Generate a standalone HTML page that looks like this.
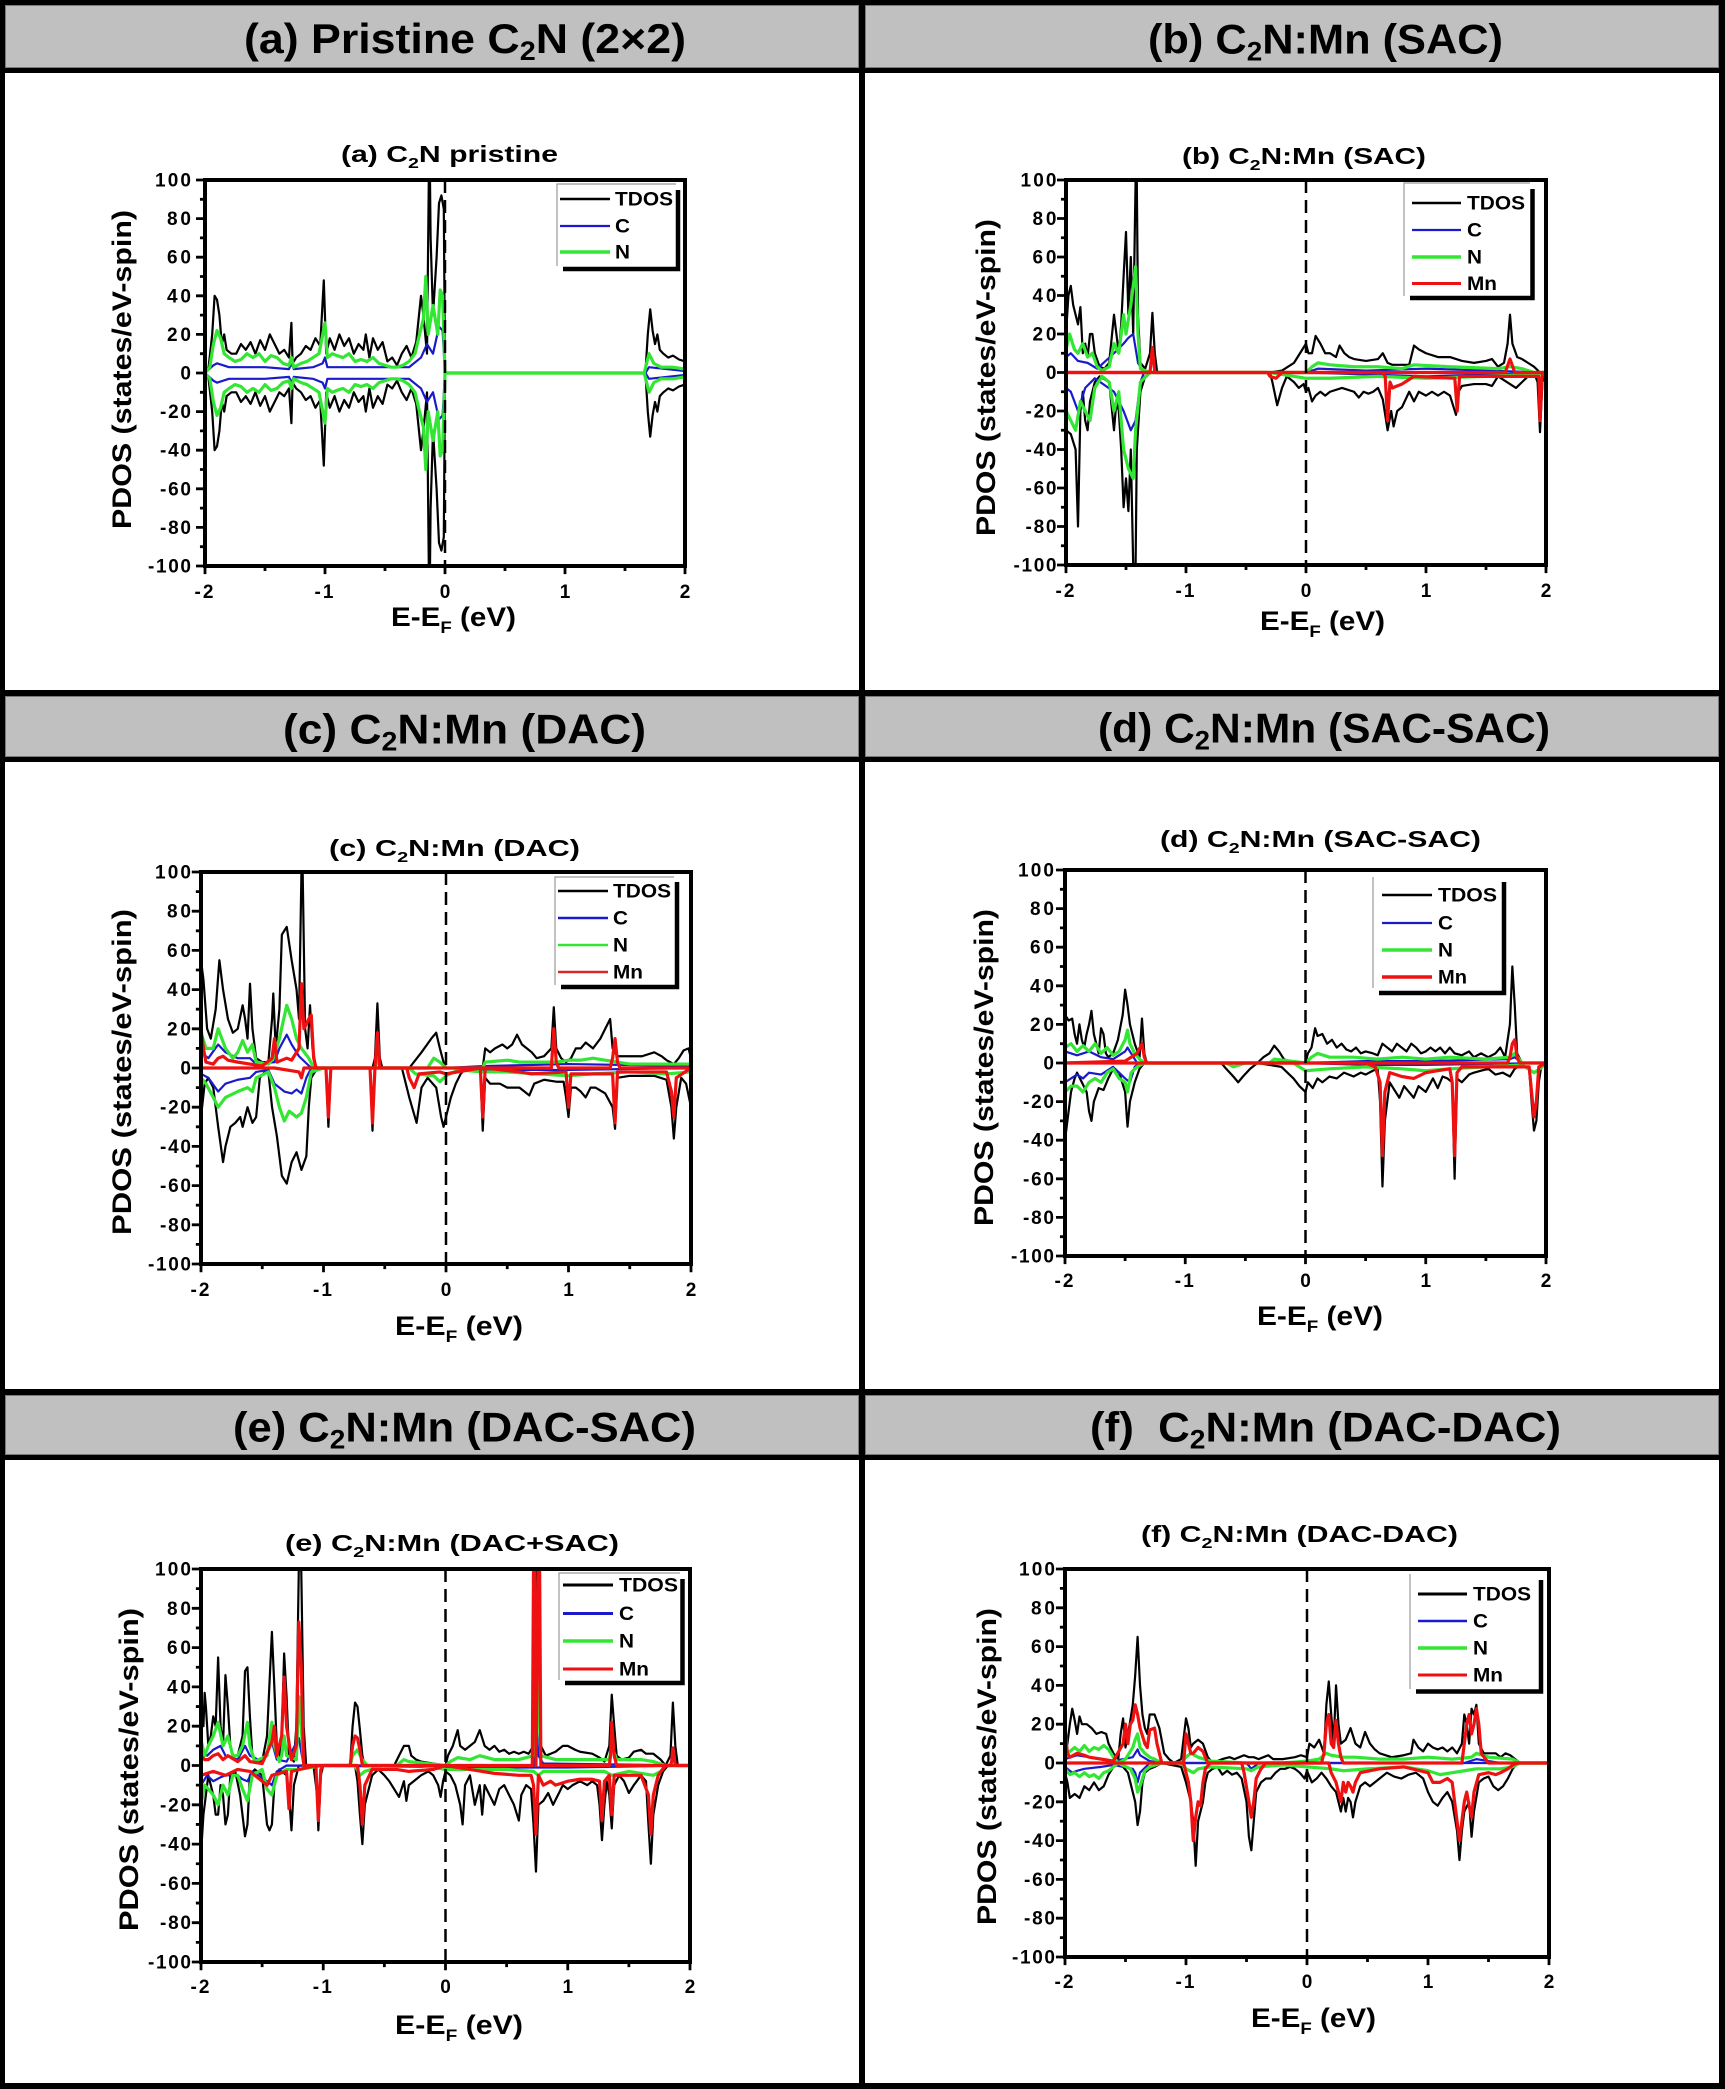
<!DOCTYPE html>
<html><head><meta charset="utf-8"><style>
html,body{margin:0;padding:0;background:#fff}
svg{display:block}
.ln{fill:none;stroke-linejoin:round;stroke-linecap:round}
.t{stroke:#000;stroke-width:2.2}
.c{stroke:#1a1acc;stroke-width:2.2}
.n{stroke:#33e633;stroke-width:3.2}
.m{stroke:#ee1111;stroke-width:3.2}
text{font-family:"Liberation Sans",Arial,sans-serif;font-weight:bold;fill:#000}
.hd{font-size:42px}
.ti{font-size:23px}
.ax{font-size:27px}
.yl{font-size:19px;text-anchor:end}
.xl{font-size:19px;text-anchor:middle}
.lg{font-size:19px}
</style></head><body>
<svg width="1725" height="2089" viewBox="0 0 1725 2089" xmlns="http://www.w3.org/2000/svg">
<defs>
<path id="tk" fill="none" stroke="#000" stroke-width="2.8" vector-effect="non-scaling-stroke" d="M-2.075,100H-2M-2.075,80H-2M-2.075,60H-2M-2.075,40H-2M-2.075,20H-2M-2.075,0H-2M-2.075,-20H-2M-2.075,-40H-2M-2.075,-60H-2M-2.075,-80H-2M-2.075,-100H-2M-2.042,90H-2M-2.042,70H-2M-2.042,50H-2M-2.042,30H-2M-2.042,10H-2M-2.042,-10H-2M-2.042,-30H-2M-2.042,-50H-2M-2.042,-70H-2M-2.042,-90H-2M-2,-100V-104.2M-1,-100V-104.2M0,-100V-104.2M1,-100V-104.2M2,-100V-104.2M-1.5,-100V-102.6M-0.5,-100V-102.6M0.5,-100V-102.6M1.5,-100V-102.6"/>
<clipPath id="ca"><rect x="205" y="180" width="480" height="386"/></clipPath>
<clipPath id="cb"><rect x="1066" y="180" width="480" height="385"/></clipPath>
<clipPath id="cc"><rect x="201" y="872" width="490" height="392"/></clipPath>
<clipPath id="cd"><rect x="1065" y="870" width="481" height="386"/></clipPath>
<clipPath id="ce"><rect x="201" y="1569" width="489" height="393"/></clipPath>
<clipPath id="cf"><rect x="1065" y="1569" width="484" height="388"/></clipPath>
</defs>

<!-- grid -->
<rect x="0" y="0" width="1725" height="2089" fill="#000"/>
<g fill="#c0c0c0" stroke="#7a7a7a" stroke-width="1">
<rect x="5.5" y="5.5" width="853" height="62"/>
<rect x="865.5" y="5.5" width="853" height="62"/>
<rect x="5.5" y="696.5" width="853" height="60"/>
<rect x="865.5" y="696.5" width="853" height="60"/>
<rect x="5.5" y="1395.5" width="853" height="59"/>
<rect x="865.5" y="1395.5" width="853" height="59"/>
</g>
<g fill="#fff">
<rect x="5" y="73" width="854" height="617"/>
<rect x="865" y="73" width="854" height="617"/>
<rect x="5" y="762" width="854" height="627"/>
<rect x="865" y="762" width="854" height="627"/>
<rect x="5" y="1460" width="854" height="623"/>
<rect x="865" y="1460" width="854" height="623"/>
</g>

<!-- headers -->
<text class="hd" x="244" y="53" textLength="442" lengthAdjust="spacingAndGlyphs">(a) Pristine C<tspan font-size="27" dy="7">2</tspan><tspan dy="-7">N (2×2)</tspan></text>
<text class="hd" x="1148" y="53.5" textLength="355" lengthAdjust="spacingAndGlyphs">(b) C<tspan font-size="27" dy="7">2</tspan><tspan dy="-7">N:Mn (SAC)</tspan></text>
<text class="hd" x="283" y="743.5" textLength="363" lengthAdjust="spacingAndGlyphs">(c) C<tspan font-size="27" dy="7">2</tspan><tspan dy="-7">N:Mn (DAC)</tspan></text>
<text class="hd" x="1098" y="742.5" textLength="452" lengthAdjust="spacingAndGlyphs">(d) C<tspan font-size="27" dy="7">2</tspan><tspan dy="-7">N:Mn (SAC-SAC)</tspan></text>
<text class="hd" x="233" y="1441.5" textLength="463" lengthAdjust="spacingAndGlyphs">(e) C<tspan font-size="27" dy="7">2</tspan><tspan dy="-7">N:Mn (DAC-SAC)</tspan></text>
<text class="hd" x="1090" y="1441.5" textLength="471" lengthAdjust="spacingAndGlyphs">(f)&#160; C<tspan font-size="27" dy="7">2</tspan><tspan dy="-7">N:Mn (DAC-DAC)</tspan></text>

<!-- ================= PANEL A ================= -->
<g clip-path="url(#ca)">
<g transform="translate(445,373) scale(120,-1.93)">
<polyline id="at" class="ln t" vector-effect="non-scaling-stroke" points="-2,0 -1.97,3 -1.94,20 -1.92,40 -1.9,38 -1.88,30 -1.86,15 -1.84,20 -1.82,12 -1.78,10 -1.74,10 -1.7,15 -1.66,12 -1.62,16 -1.58,10 -1.54,17 -1.5,12 -1.46,20 -1.42,15 -1.38,10 -1.34,12 -1.3,8 -1.28,26 -1.27,5 -1.24,8 -1.2,10 -1.16,14 -1.12,12 -1.08,18 -1.04,14 -1.01,48 -0.99,10 -0.96,18 -0.92,12 -0.88,20 -0.84,14 -0.8,18 -0.76,10 -0.72,15 -0.68,12 -0.66,20 -0.63,8 -0.6,18 -0.56,12 -0.52,16 -0.48,6 -0.44,8 -0.4,4 -0.36,10 -0.32,14 -0.28,8 -0.24,16 -0.2,40 -0.18,30 -0.15,10 -0.135,100 -0.125,100 -0.12,70 -0.1,30 -0.07,60 -0.05,88 -0.03,92 -0.01,85 0,0 1.67,0 1.69,20 1.71,33 1.73,22 1.75,15 1.77,20 1.79,12 1.82,10 1.86,8 1.9,9 1.95,7 2,6"/>
<use href="#at" transform="scale(1,-1)"/>
<polyline id="ac" class="ln c" vector-effect="non-scaling-stroke" points="-2,0 -1.93,4 -1.9,5 -1.8,3 -1.7,3 -1.5,3 -1.3,2 -1.28,5 -1.26,2 -1.1,3 -1.02,5 -1,8 -0.98,3 -0.9,3 -0.6,3 -0.3,3 -0.2,8 -0.15,15 -0.1,10 -0.05,24 -0.02,22 0,0 1.67,0 1.7,3 2,1"/>
<use href="#ac" transform="scale(1,-1)"/>
<polyline id="an" class="ln n" vector-effect="non-scaling-stroke" points="-2,0 -1.96,3 -1.93,15 -1.9,22 -1.87,18 -1.84,10 -1.8,8 -1.75,6 -1.7,7 -1.65,10 -1.6,8 -1.55,10 -1.5,6 -1.45,9 -1.4,8 -1.35,5 -1.3,4 -1.28,8 -1.26,3 -1.2,5 -1.15,6 -1.1,8 -1.05,10 -1,26 -0.98,8 -0.94,10 -0.9,9 -0.85,8 -0.8,10 -0.75,6 -0.7,7 -0.65,6 -0.6,8 -0.55,5 -0.5,4 -0.45,3 -0.4,3 -0.35,4 -0.3,6 -0.25,10 -0.22,18 -0.18,28 -0.16,50 -0.14,20 -0.1,35 -0.06,20 -0.04,43 -0.02,40 0,0 1.66,0 1.7,10 1.74,5 1.8,3 1.9,3 2,2"/>
<use href="#an" transform="scale(1,-1)"/>
</g></g>
<g transform="translate(445,373) scale(120,-1.93)"><use href="#tk"/></g>
<line x1="445" y1="180" x2="445" y2="566" stroke="#000" stroke-width="2.5" stroke-dasharray="13 7"/>
<rect x="205" y="180" width="480" height="386" fill="none" stroke="#000" stroke-width="4"/>
<text class="yl" x="191" y="186.5" textLength="36">100</text><text class="yl" x="191" y="225.1" textLength="24">80</text><text class="yl" x="191" y="263.7" textLength="24">60</text><text class="yl" x="191" y="302.3" textLength="24">40</text><text class="yl" x="191" y="340.9" textLength="24">20</text><text class="yl" x="191" y="379.5" textLength="12">0</text><text class="yl" x="191" y="418.1" textLength="31">-20</text><text class="yl" x="191" y="456.7" textLength="31">-40</text><text class="yl" x="191" y="495.3" textLength="31">-60</text><text class="yl" x="191" y="533.9" textLength="31">-80</text><text class="yl" x="191" y="572.5" textLength="43">-100</text>
<text class="xl" x="204" y="598" textLength="19">-2</text><text class="xl" x="324" y="598" textLength="19">-1</text><text class="xl" x="445" y="598" textLength="12">0</text><text class="xl" x="565" y="598" textLength="12">1</text><text class="xl" x="685" y="598" textLength="12">2</text>
<text class="ti" x="341" y="162" textLength="217" lengthAdjust="spacingAndGlyphs">(a) C<tspan font-size="15" dy="6">2</tspan><tspan dy="-6">N pristine</tspan></text>
<text class="ax" x="391" y="626" textLength="125" lengthAdjust="spacingAndGlyphs">E-E<tspan font-size="17" dy="7">F</tspan><tspan dy="-7"> (eV)</tspan></text>
<text class="ax" transform="translate(131,369.5) rotate(-90)" x="0" y="0" text-anchor="middle" textLength="319" lengthAdjust="spacingAndGlyphs">PDOS (states/eV-spin)</text>
<path d="M557,266V184H676" fill="none" stroke="#999" stroke-width="1.2"/>
<path d="M678,190V269H563" fill="none" stroke="#000" stroke-width="4.5"/>
<line x1="560" y1="199" x2="610" y2="199" stroke="#000" stroke-width="2.5"/>
<line x1="560" y1="226" x2="610" y2="226" stroke="#1a1acc" stroke-width="2.2"/>
<line x1="560" y1="252" x2="610" y2="252" stroke="#33e633" stroke-width="3.5"/>
<text class="lg" x="615" y="205.5" textLength="58" lengthAdjust="spacingAndGlyphs">TDOS</text>
<text class="lg" x="615" y="232.5" textLength="15" lengthAdjust="spacingAndGlyphs">C</text>
<text class="lg" x="615" y="258.5" textLength="15" lengthAdjust="spacingAndGlyphs">N</text>

<!-- ================= PANEL B ================= -->
<g clip-path="url(#cb)">
<g transform="translate(1306,372.5) scale(120,-1.925)">
<polyline class="ln t" vector-effect="non-scaling-stroke" points="-2,20 -1.98,40 -1.96,45 -1.94,35 -1.92,30 -1.9,25 -1.88,34 -1.86,10 -1.84,15 -1.82,8 -1.8,20 -1.78,20 -1.76,10 -1.72,3 -1.68,2 -1.64,5 -1.6,30 -1.58,20 -1.56,10 -1.54,25 -1.52,50 -1.5,73 -1.48,30 -1.46,60 -1.44,20 -1.42,100 -1.41,100 -1.4,30 -1.38,5 -1.34,2 -1.3,10 -1.28,31 -1.26,10 -1.24,0 -0.3,0 -0.2,1 -0.1,5 -0.05,10 0,15 0.02,10 0.05,10 0.08,19 0.12,15 0.16,10 0.2,10 0.25,8 0.28,14 0.32,10 0.36,8 0.4,7 0.5,6 0.6,7 0.64,10 0.68,5 0.72,4 0.8,4 0.86,4 0.9,14 0.94,12 1,10 1.1,8 1.2,8 1.3,6 1.4,5 1.5,6 1.55,7 1.6,3 1.65,5 1.68,15 1.7,30 1.72,15 1.76,8 1.8,7 1.85,5 1.9,3 1.95,0 2,0"/>
<polyline class="ln t" vector-effect="non-scaling-stroke" points="-2,-30 -1.96,-32 -1.92,-40 -1.9,-80 -1.88,-20 -1.86,-10 -1.84,-25 -1.82,-30 -1.8,-15 -1.76,-5 -1.72,-2 -1.64,-5 -1.6,-30 -1.58,-15 -1.56,-20 -1.54,-40 -1.52,-70 -1.5,-55 -1.48,-72 -1.46,-40 -1.44,-100 -1.42,-100 -1.41,-40 -1.38,-10 -1.34,-2 -1.3,0 -0.3,0 -0.28,-5 -0.24,-17 -0.2,-8 -0.16,-2 -0.1,-5 -0.06,-8 -0.02,-6 0,-10 0.02,-8 0.05,-15 0.08,-12 0.12,-10 0.16,-12 0.2,-10 0.3,-8 0.4,-10 0.44,-13 0.48,-10 0.52,-11 0.56,-10 0.6,-8 0.64,-14 0.68,-30 0.71,-20 0.73,-28 0.76,-20 0.8,-18 0.86,-10 0.9,-15 0.94,-10 1,-12 1.05,-10 1.1,-12 1.15,-10 1.2,-12 1.25,-22 1.27,-10 1.3,-7 1.4,-6 1.5,-6 1.55,-7 1.6,-2 1.65,-4 1.7,-6 1.75,-8 1.8,-5 1.85,-2 1.9,0 1.93,-5 1.95,-31 1.97,-5 2,0"/>
<polyline class="ln c" vector-effect="non-scaling-stroke" points="-2,8 -1.96,10 -1.9,6 -1.82,5 -1.74,2 -1.6,10 -1.52,15 -1.48,18 -1.44,20 -1.4,5 -1.35,0 0,0 0.1,2 0.5,1 1,2 1.5,1 2,0"/>
<polyline class="ln c" vector-effect="non-scaling-stroke" points="-2,-8 -1.96,-10 -1.9,-20 -1.84,-8 -1.76,-3 -1.6,-10 -1.52,-20 -1.46,-30 -1.42,-25 -1.38,-5 -1.35,0 0,0 0.5,-1 1,-2 2,0"/>
<polyline class="ln n" vector-effect="non-scaling-stroke" points="-2,12 -1.97,20 -1.93,12 -1.9,10 -1.86,15 -1.82,8 -1.78,10 -1.74,3 -1.7,1 -1.64,3 -1.6,15 -1.56,10 -1.52,30 -1.5,20 -1.46,35 -1.42,55 -1.4,20 -1.38,2 -1.3,0 0,0 0.05,3 0.1,5 0.2,4 0.4,3 0.6,3 0.8,2 0.9,4 1.2,3 1.6,2 1.7,3 1.8,2 1.9,0 2,0"/>
<polyline class="ln n" vector-effect="non-scaling-stroke" points="-2,-20 -1.96,-25 -1.92,-30 -1.88,-15 -1.84,-20 -1.8,-25 -1.76,-8 -1.7,-2 -1.64,-5 -1.6,-20 -1.56,-10 -1.52,-40 -1.48,-50 -1.44,-55 -1.42,-30 -1.38,-5 -1.3,0 -0.3,0 0,-3 0.2,-3 0.6,-2 1,-3 1.5,-2 1.9,-1 2,0"/>
<polyline class="ln m" vector-effect="non-scaling-stroke" points="-2,0 -1.3,0 -1.28,13 -1.26,0 1.66,0 1.7,7 1.74,0 2,0"/>
<polyline class="ln m" vector-effect="non-scaling-stroke" points="-2,0 -0.32,0 -0.3,-2 -0.25,-3 -0.2,0 0.64,0 0.66,-2 0.68,-25 0.7,-5 0.72,-8 0.8,-6 0.9,-2 1.24,-3 1.26,-20 1.28,-2 1.94,-2 1.95,-25 1.97,0 2,0"/>
</g></g>
<g transform="translate(1306,372.5) scale(120,-1.925)"><use href="#tk"/></g>
<line x1="1306" y1="180" x2="1306" y2="565" stroke="#000" stroke-width="2.5" stroke-dasharray="13 7"/>
<rect x="1066" y="180" width="480" height="385" fill="none" stroke="#000" stroke-width="4"/>
<text class="yl" x="1056.5" y="186.5" textLength="36">100</text><text class="yl" x="1056.5" y="225" textLength="24">80</text><text class="yl" x="1056.5" y="263.5" textLength="24">60</text><text class="yl" x="1056.5" y="302" textLength="24">40</text><text class="yl" x="1056.5" y="340.5" textLength="24">20</text><text class="yl" x="1056.5" y="379" textLength="12">0</text><text class="yl" x="1056.5" y="417.5" textLength="31">-20</text><text class="yl" x="1056.5" y="456" textLength="31">-40</text><text class="yl" x="1056.5" y="494.5" textLength="31">-60</text><text class="yl" x="1056.5" y="533" textLength="31">-80</text><text class="yl" x="1056.5" y="571.5" textLength="43">-100</text>
<text class="xl" x="1065" y="597" textLength="19">-2</text><text class="xl" x="1185" y="597" textLength="19">-1</text><text class="xl" x="1306" y="597" textLength="12">0</text><text class="xl" x="1426" y="597" textLength="12">1</text><text class="xl" x="1546" y="597" textLength="12">2</text>
<text class="ti" x="1182" y="164" textLength="244" lengthAdjust="spacingAndGlyphs">(b) C<tspan font-size="15" dy="6">2</tspan><tspan dy="-6">N:Mn (SAC)</tspan></text>
<text class="ax" x="1260" y="630" textLength="125" lengthAdjust="spacingAndGlyphs">E-E<tspan font-size="17" dy="7">F</tspan><tspan dy="-7"> (eV)</tspan></text>
<text class="ax" transform="translate(995,377.5) rotate(-90)" x="0" y="0" text-anchor="middle" textLength="317" lengthAdjust="spacingAndGlyphs">PDOS (states/eV-spin)</text>
<path d="M1404,296V183H1530" fill="none" stroke="#999" stroke-width="1.2"/>
<path d="M1532.5,189V298H1410" fill="none" stroke="#000" stroke-width="4.5"/>
<line x1="1412" y1="203" x2="1461" y2="203" stroke="#000" stroke-width="2.5"/>
<line x1="1412" y1="230" x2="1461" y2="230" stroke="#1a1acc" stroke-width="2.2"/>
<line x1="1412" y1="257" x2="1461" y2="257" stroke="#33e633" stroke-width="3.5"/>
<line x1="1412" y1="283.5" x2="1461" y2="283.5" stroke="#ee1111" stroke-width="3"/>
<text class="lg" x="1467" y="209.5" textLength="58" lengthAdjust="spacingAndGlyphs">TDOS</text>
<text class="lg" x="1467" y="236.5" textLength="15" lengthAdjust="spacingAndGlyphs">C</text>
<text class="lg" x="1467" y="263.5" textLength="15" lengthAdjust="spacingAndGlyphs">N</text>
<text class="lg" x="1467" y="290" textLength="30" lengthAdjust="spacingAndGlyphs">Mn</text>

<!-- ================= PANEL C ================= -->
<g clip-path="url(#cc)">
<g transform="translate(446,1068) scale(122.5,-1.96)">
<polyline class="ln t" vector-effect="non-scaling-stroke" points="-2,55 -1.98,45 -1.95,20 -1.92,15 -1.88,30 -1.85,55 -1.82,40 -1.78,25 -1.74,18 -1.7,20 -1.66,32 -1.64,25 -1.62,15 -1.6,43 -1.58,20 -1.55,5 -1.5,3 -1.45,3 -1.42,25 -1.41,38 -1.39,10 -1.36,30 -1.34,68 -1.3,72 -1.26,55 -1.22,40 -1.2,25 -1.18,100 -1.17,100 -1.15,20 -1.13,10 -1.11,32 -1.09,10 -1.06,0 -0.6,0 -0.58,5 -0.56,33 -0.54,5 -0.52,0 -0.3,0 -0.2,8 -0.12,15 -0.08,18 -0.05,10 -0.02,3 0,0 0.3,0 0.32,10 0.36,8 0.4,10 0.46,12 0.5,10 0.54,12 0.58,17 0.62,12 0.66,10 0.7,8 0.74,5 0.8,6 0.86,10 0.88,31 0.9,10 0.94,5 0.98,3 1.02,5 1.06,10 1.1,10 1.14,13 1.2,10 1.26,15 1.3,20 1.34,25 1.36,10 1.4,6 1.5,6 1.6,6 1.7,8 1.76,6 1.8,4 1.86,2 1.9,5 1.94,9 1.98,10 2,5"/>
<polyline class="ln t" vector-effect="non-scaling-stroke" points="-2,-25 -1.97,-8 -1.94,-5 -1.9,-10 -1.86,-30 -1.82,-48 -1.8,-40 -1.76,-30 -1.72,-28 -1.68,-25 -1.66,-30 -1.62,-20 -1.58,-28 -1.55,-25 -1.52,-5 -1.48,-2 -1.45,-2 -1.42,-20 -1.38,-35 -1.34,-55 -1.3,-59 -1.26,-48 -1.22,-43 -1.18,-52 -1.14,-45 -1.12,-20 -1.1,-5 -1.05,0 -0.98,0 -0.96,-30 -0.94,0 -0.62,0 -0.6,-32 -0.58,0 -0.36,0 -0.3,-15 -0.24,-28 -0.2,-10 -0.15,-5 -0.08,-10 -0.04,-25 -0.02,-30 0,-25 0.04,-15 0.08,-8 0.12,-3 0.16,0 0.28,0 0.3,-32 0.32,-5 0.36,-8 0.44,-8 0.5,-10 0.56,-10 0.6,-10 0.64,-12 0.68,-14 0.72,-8 0.8,-6 0.9,-7 0.96,-7 0.98,-15 1,-25 1.02,-10 1.06,-10 1.1,-12 1.14,-15 1.18,-10 1.22,-10 1.3,-13 1.36,-20 1.38,-31 1.4,-5 1.5,-4 1.6,-4 1.7,-4 1.8,-6 1.84,-20 1.86,-36 1.88,-20 1.92,-5 1.96,-8 2,-20"/>
<polyline class="ln c" vector-effect="non-scaling-stroke" points="-2,8 -1.94,5 -1.86,12 -1.8,8 -1.7,5 -1.6,5 -1.55,2 -1.4,3 -1.36,10 -1.3,17 -1.26,12 -1.2,6 -1.15,3 -1.1,0 0,0 0.3,1 1,2 2,1"/>
<polyline class="ln c" vector-effect="non-scaling-stroke" points="-2,-3 -1.94,-5 -1.86,-12 -1.8,-8 -1.7,-6 -1.6,-5 -1.55,-2 -1.45,-1 -1.4,-8 -1.32,-12 -1.26,-13 -1.22,-11 -1.18,-13 -1.14,-5 -1.1,0 0,0 0.3,-1 1,-1 2,0"/>
<polyline class="ln n" vector-effect="non-scaling-stroke" points="-2,18 -1.96,10 -1.9,10 -1.86,20 -1.8,10 -1.74,5 -1.7,8 -1.66,14 -1.62,8 -1.58,12 -1.55,3 -1.45,2 -1.41,5 -1.36,15 -1.3,32 -1.26,25 -1.22,15 -1.18,10 -1.12,5 -1.08,0 -0.58,0 -0.56,5 -0.54,0 -0.15,0 -0.1,5 -0.05,3 0,0 0.3,0 0.32,3 0.5,4 0.6,3 0.9,3 1,4 1.1,4 1.2,5 1.3,4 1.4,3 1.5,2 2,2"/>
<polyline class="ln n" vector-effect="non-scaling-stroke" points="-2,-5 -1.96,-8 -1.9,-15 -1.86,-20 -1.8,-15 -1.7,-12 -1.62,-10 -1.58,-12 -1.55,-5 -1.45,-2 -1.4,-10 -1.36,-20 -1.32,-27 -1.28,-22 -1.22,-25 -1.18,-23 -1.14,-15 -1.1,-2 -1,0 -0.3,0 -0.25,-3 -0.1,-4 -0.05,-7 0,-4 0.1,-1 0.3,-2 0.5,-2 1,-4 1.2,-3 1.5,-2 1.8,-3 2,-2"/>
<polyline class="ln m" vector-effect="non-scaling-stroke" points="-2,20 -1.98,10 -1.96,3 -1.9,2 -1.86,5 -1.82,6 -1.78,4 -1.7,3 -1.6,2 -1.5,1 -1.42,5 -1.4,15 -1.38,3 -1.3,5 -1.26,4 -1.2,10 -1.18,43 -1.16,20 -1.12,25 -1.1,27 -1.08,5 -1.06,0 -0.58,0 -0.56,18 -0.54,0 0.86,0 0.88,20 0.9,3 0.92,0 1.34,0 1.36,5 1.38,15 1.4,3 1.42,0 2,0"/>
<polyline class="ln m" vector-effect="non-scaling-stroke" points="-2,0 -1.4,0 -1.2,-2 -1.18,-5 -1.16,0 -0.98,0 -0.96,-25 -0.94,0 -0.62,0 -0.6,-28 -0.58,0 -0.32,0 -0.3,-5 -0.26,-10 -0.22,-3 -0.05,-2 0,-3 0.28,0 0.3,-25 0.32,0 0.6,-2 0.7,-3 0.98,-2 1,-20 1.02,-3 1.36,-3 1.38,-28 1.4,-2 1.8,-2 1.84,-12 1.86,-25 1.88,-5 2,0"/>
</g></g>
<g transform="translate(446,1068) scale(122.5,-1.96)"><use href="#tk"/></g>
<line x1="446" y1="872" x2="446" y2="1264" stroke="#000" stroke-width="2.5" stroke-dasharray="13 7"/>
<rect x="201" y="872" width="490" height="392" fill="none" stroke="#000" stroke-width="4"/>
<text class="yl" x="191" y="878.5" textLength="36">100</text><text class="yl" x="191" y="917.7" textLength="24">80</text><text class="yl" x="191" y="956.9" textLength="24">60</text><text class="yl" x="191" y="996.1" textLength="24">40</text><text class="yl" x="191" y="1035.3" textLength="24">20</text><text class="yl" x="191" y="1074.5" textLength="12">0</text><text class="yl" x="191" y="1113.7" textLength="31">-20</text><text class="yl" x="191" y="1152.9" textLength="31">-40</text><text class="yl" x="191" y="1192.1" textLength="31">-60</text><text class="yl" x="191" y="1231.3" textLength="31">-80</text><text class="yl" x="191" y="1270.5" textLength="43">-100</text>
<text class="xl" x="200" y="1296" textLength="19">-2</text><text class="xl" x="322.5" y="1296" textLength="19">-1</text><text class="xl" x="446" y="1296" textLength="12">0</text><text class="xl" x="568.5" y="1296" textLength="12">1</text><text class="xl" x="691" y="1296" textLength="12">2</text>
<text class="ti" x="329" y="856" textLength="251" lengthAdjust="spacingAndGlyphs">(c) C<tspan font-size="15" dy="6">2</tspan><tspan dy="-6">N:Mn (DAC)</tspan></text>
<text class="ax" x="395" y="1335" textLength="128" lengthAdjust="spacingAndGlyphs">E-E<tspan font-size="17" dy="7">F</tspan><tspan dy="-7"> (eV)</tspan></text>
<text class="ax" transform="translate(131,1072) rotate(-90)" x="0" y="0" text-anchor="middle" textLength="326" lengthAdjust="spacingAndGlyphs">PDOS (states/eV-spin)</text>
<path d="M555,985V877H674" fill="none" stroke="#999" stroke-width="1.2"/>
<path d="M677,882V987H561" fill="none" stroke="#000" stroke-width="4.5"/>
<line x1="558" y1="891" x2="608" y2="891" stroke="#000" stroke-width="2.5"/>
<line x1="558" y1="918" x2="608" y2="918" stroke="#1a1acc" stroke-width="2.5"/>
<line x1="558" y1="945" x2="608" y2="945" stroke="#33e633" stroke-width="2.5"/>
<line x1="558" y1="972" x2="608" y2="972" stroke="#d42a2a" stroke-width="2.5"/>
<text class="lg" x="613" y="897.5" textLength="58" lengthAdjust="spacingAndGlyphs">TDOS</text>
<text class="lg" x="613" y="924.5" textLength="15" lengthAdjust="spacingAndGlyphs">C</text>
<text class="lg" x="613" y="951.5" textLength="15" lengthAdjust="spacingAndGlyphs">N</text>
<text class="lg" x="613" y="978.5" textLength="30" lengthAdjust="spacingAndGlyphs">Mn</text>

<!-- ================= PANEL D ================= -->
<g clip-path="url(#cd)">
<g transform="translate(1305.5,1063) scale(120.25,-1.93)">
<polyline class="ln t" vector-effect="non-scaling-stroke" points="-2,25 -1.97,22 -1.94,23 -1.92,15 -1.9,10 -1.88,20 -1.86,12 -1.84,8 -1.82,15 -1.8,20 -1.78,27 -1.76,15 -1.74,10 -1.72,5 -1.7,18 -1.68,15 -1.66,5 -1.64,3 -1.6,5 -1.56,12 -1.52,25 -1.5,38 -1.48,30 -1.46,20 -1.42,10 -1.38,3 -1.36,23 -1.34,5 -1.32,0 -0.4,0 -0.35,3 -0.3,5 -0.26,9 -0.22,6 -0.18,2 -0.1,0 0,0 0.02,5 0.05,8 0.08,18 0.1,14 0.14,15 0.18,10 0.22,12 0.26,8 0.3,10 0.34,7 0.38,6 0.42,8 0.46,5 0.5,6 0.56,5 0.6,4 0.64,10 0.68,8 0.72,6 0.76,10 0.8,8 0.84,6 0.88,10 0.92,8 0.96,5 1,6 1.04,8 1.08,6 1.12,8 1.16,5 1.2,8 1.24,5 1.3,4 1.36,6 1.4,3 1.46,5 1.52,3 1.58,5 1.62,8 1.66,3 1.7,20 1.72,50 1.74,30 1.76,5 1.8,0 2,0"/>
<polyline class="ln t" vector-effect="non-scaling-stroke" points="-2,-40 -1.98,-30 -1.95,-15 -1.92,-8 -1.9,-5 -1.86,-10 -1.82,-15 -1.8,-25 -1.78,-30 -1.76,-20 -1.72,-13 -1.68,-14 -1.64,-8 -1.6,-3 -1.55,-5 -1.5,-15 -1.48,-33 -1.46,-20 -1.42,-10 -1.38,-3 -1.34,0 -0.7,0 -0.66,-3 -0.6,-7 -0.56,-10 -0.52,-7 -0.46,-3 -0.4,0 -0.2,-2 -0.15,-5 -0.1,-8 -0.05,-12 0,-15 0.02,-10 0.06,-13 0.1,-8 0.14,-10 0.2,-7 0.26,-8 0.32,-5 0.4,-7 0.46,-5 0.5,-6 0.56,-4 0.6,-3 0.62,-20 0.64,-64 0.66,-30 0.7,-10 0.74,-14 0.78,-18 0.82,-12 0.86,-15 0.9,-18 0.94,-12 1,-15 1.06,-8 1.1,-13 1.14,-7 1.18,-8 1.22,-10 1.24,-60 1.26,-8 1.3,-10 1.36,-6 1.4,-5 1.46,-4 1.52,-3 1.58,-6 1.64,-5 1.7,-7 1.74,-3 1.8,-1 1.86,-3 1.88,-20 1.9,-35 1.92,-30 1.94,-10 1.96,-2 2,0"/>
<polyline class="ln c" vector-effect="non-scaling-stroke" points="-2,6 -1.9,4 -1.8,6 -1.7,3 -1.6,2 -1.5,6 -1.48,8 -1.44,4 -1.4,0 0,0 0.5,1 1,1 1.7,2 1.74,3 1.8,0 2,0"/>
<polyline class="ln c" vector-effect="non-scaling-stroke" points="-2,-10 -1.9,-6 -1.85,-8 -1.8,-5 -1.7,-6 -1.6,-2 -1.5,-8 -1.46,-10 -1.42,-2 -1.38,0 0,0 0.5,-1 1,-1 2,0"/>
<polyline class="ln n" vector-effect="non-scaling-stroke" points="-2,8 -1.95,10 -1.9,6 -1.85,9 -1.8,6 -1.75,10 -1.7,5 -1.65,8 -1.6,4 -1.55,6 -1.5,12 -1.48,17 -1.46,10 -1.42,5 -1.38,2 -1.34,0 -0.3,0 -0.26,2 0,0 0.05,3 0.1,5 0.2,3 0.4,3 0.6,2 0.8,3 1,2 1.2,3 1.5,2 1.7,3 1.74,5 1.8,0 2,0"/>
<polyline class="ln n" vector-effect="non-scaling-stroke" points="-2,-15 -1.95,-12 -1.9,-12 -1.85,-15 -1.8,-10 -1.75,-8 -1.7,-10 -1.65,-5 -1.6,-3 -1.55,-8 -1.5,-10 -1.48,-15 -1.45,-5 -1.4,-2 -1.34,0 -0.66,0 -0.6,-2 -0.5,0 -0.1,0 0,-4 0.2,-3 0.5,-2 0.8,-3 1,-4 1.2,-3 1.5,-2 1.8,-1 1.9,-5 1.95,-3 2,0"/>
<polyline class="ln m" vector-effect="non-scaling-stroke" points="-2,0 -1.5,1 -1.4,5 -1.36,10 -1.34,3 -1.32,0 1.68,0 1.7,3 1.72,10 1.74,12 1.76,3 1.78,0 2,0"/>
<polyline class="ln m" vector-effect="non-scaling-stroke" points="-2,0 0.5,0 0.58,-2 0.62,-10 0.64,-48 0.66,-15 0.7,-5 0.8,-7 0.9,-8 1,-5 1.1,-4 1.2,-3 1.22,-10 1.24,-48 1.26,-5 1.3,-2 1.86,-2 1.88,-15 1.9,-28 1.92,-20 1.94,-2 2,0"/>
</g></g>
<g transform="translate(1305.5,1063) scale(120.25,-1.93)"><use href="#tk"/></g>
<line x1="1305.5" y1="870" x2="1305.5" y2="1256" stroke="#000" stroke-width="2.5" stroke-dasharray="13 7"/>
<rect x="1065" y="870" width="481" height="386" fill="none" stroke="#000" stroke-width="4"/>
<text class="yl" x="1054" y="876.5" textLength="36">100</text><text class="yl" x="1054" y="915.1" textLength="24">80</text><text class="yl" x="1054" y="953.7" textLength="24">60</text><text class="yl" x="1054" y="992.3" textLength="24">40</text><text class="yl" x="1054" y="1030.9" textLength="24">20</text><text class="yl" x="1054" y="1069.5" textLength="12">0</text><text class="yl" x="1054" y="1108.1" textLength="31">-20</text><text class="yl" x="1054" y="1146.7" textLength="31">-40</text><text class="yl" x="1054" y="1185.3" textLength="31">-60</text><text class="yl" x="1054" y="1223.9" textLength="31">-80</text><text class="yl" x="1054" y="1262.5" textLength="43">-100</text>
<text class="xl" x="1064" y="1287" textLength="19">-2</text><text class="xl" x="1184.3" y="1287" textLength="19">-1</text><text class="xl" x="1305.5" y="1287" textLength="12">0</text><text class="xl" x="1425.8" y="1287" textLength="12">1</text><text class="xl" x="1546" y="1287" textLength="12">2</text>
<text class="ti" x="1160" y="847" textLength="321" lengthAdjust="spacingAndGlyphs">(d) C<tspan font-size="15" dy="6">2</tspan><tspan dy="-6">N:Mn (SAC-SAC)</tspan></text>
<text class="ax" x="1257" y="1325" textLength="126" lengthAdjust="spacingAndGlyphs">E-E<tspan font-size="17" dy="7">F</tspan><tspan dy="-7"> (eV)</tspan></text>
<text class="ax" transform="translate(993,1067.5) rotate(-90)" x="0" y="0" text-anchor="middle" textLength="317" lengthAdjust="spacingAndGlyphs">PDOS (states/eV-spin)</text>
<path d="M1373,988V877" fill="none" stroke="#999" stroke-width="1.2"/>
<path d="M1504,882V993H1379" fill="none" stroke="#000" stroke-width="4.5"/>
<line x1="1382" y1="895" x2="1432" y2="895" stroke="#000" stroke-width="2.5"/>
<line x1="1382" y1="923" x2="1432" y2="923" stroke="#1a1acc" stroke-width="2.2"/>
<line x1="1382" y1="950" x2="1432" y2="950" stroke="#33e633" stroke-width="3.5"/>
<line x1="1382" y1="977" x2="1432" y2="977" stroke="#ee1111" stroke-width="3.5"/>
<text class="lg" x="1438" y="901.5" textLength="59" lengthAdjust="spacingAndGlyphs">TDOS</text>
<text class="lg" x="1438" y="929.5" textLength="15" lengthAdjust="spacingAndGlyphs">C</text>
<text class="lg" x="1438" y="956.5" textLength="15" lengthAdjust="spacingAndGlyphs">N</text>
<text class="lg" x="1438" y="983.5" textLength="29" lengthAdjust="spacingAndGlyphs">Mn</text>

<!-- ================= PANEL E ================= -->
<g clip-path="url(#ce)">
<g transform="translate(445.5,1765.5) scale(122.25,-1.965)">
<polyline class="ln t" vector-effect="non-scaling-stroke" points="-2,20 -1.99,30 -1.98,20 -1.97,37 -1.96,30 -1.94,10 -1.92,15 -1.9,25 -1.88,20 -1.86,55 -1.84,20 -1.82,10 -1.8,46 -1.78,30 -1.76,10 -1.74,5 -1.7,5 -1.66,15 -1.64,48 -1.62,50 -1.6,25 -1.58,5 -1.54,2 -1.5,2 -1.46,15 -1.42,68 -1.4,40 -1.38,10 -1.36,5 -1.34,15 -1.32,57 -1.3,35 -1.28,5 -1.24,2 -1.22,20 -1.2,100 -1.18,100 -1.16,20 -1.14,0 -0.78,0 -0.76,20 -0.74,32 -0.72,30 -0.7,18 -0.68,5 -0.66,0 -0.42,0 -0.38,5 -0.34,10 -0.3,10 -0.28,5 -0.24,3 -0.2,2 0,0 0.02,5 0.06,10 0.1,18 0.12,10 0.16,8 0.2,10 0.24,12 0.28,18 0.32,10 0.36,8 0.4,10 0.44,7 0.48,8 0.52,6 0.56,7 0.6,6 0.64,7 0.68,6 0.72,10 0.74,100 0.76,100 0.78,10 0.82,5 0.86,6 0.9,7 0.96,10 1,10 1.06,8 1.1,7 1.2,6 1.26,4 1.3,2 1.34,10 1.36,36 1.38,20 1.4,5 1.44,3 1.5,4 1.54,7 1.6,8 1.64,6 1.7,6 1.76,3 1.8,0 1.84,5 1.86,32 1.88,10 1.9,0 2,0"/>
<polyline class="ln t" vector-effect="non-scaling-stroke" points="-2,-45 -1.98,-25 -1.96,-15 -1.94,-5 -1.9,-15 -1.88,-25 -1.86,-25 -1.84,-10 -1.82,-15 -1.8,-30 -1.78,-25 -1.76,-5 -1.72,-3 -1.68,-15 -1.64,-36 -1.62,-30 -1.6,-5 -1.56,-2 -1.5,-5 -1.46,-30 -1.44,-33 -1.42,-30 -1.4,-10 -1.36,-2 -1.3,-5 -1.28,-15 -1.26,-33 -1.24,-10 -1.2,0 -1.08,0 -1.05,-15 -1.04,-33 -1.02,-5 -1,0 -0.74,0 -0.72,-8 -0.7,-25 -0.68,-40 -0.66,-20 -0.62,-10 -0.6,-5 -0.55,-2 -0.5,-5 -0.46,-8 -0.42,-12 -0.38,-16 -0.34,-8 -0.32,-18 -0.3,-10 -0.26,-8 -0.2,-5 -0.14,-3 -0.1,-5 -0.06,-10 -0.04,-16 -0.02,-8 0,-3 0.04,-5 0.08,-10 0.12,-20 0.14,-30 0.16,-10 0.2,-5 0.24,-20 0.28,-10 0.3,-25 0.32,-10 0.36,-15 0.4,-20 0.44,-12 0.48,-10 0.52,-15 0.56,-20 0.6,-28 0.62,-15 0.66,-10 0.7,-12 0.72,-30 0.74,-54 0.76,-20 0.8,-18 0.84,-14 0.88,-20 0.92,-15 0.96,-10 1,-12 1.04,-10 1.1,-8 1.16,-10 1.2,-8 1.24,-10 1.26,-20 1.28,-38 1.3,-20 1.32,-8 1.34,-15 1.36,-32 1.38,-10 1.42,-5 1.46,-8 1.5,-14 1.54,-10 1.6,-5 1.64,-8 1.66,-30 1.68,-50 1.7,-25 1.74,-10 1.78,-3 1.82,0 2,0"/>
<polyline class="ln c" vector-effect="non-scaling-stroke" points="-2,8 -1.95,5 -1.9,8 -1.84,10 -1.8,5 -1.7,3 -1.64,10 -1.6,5 -1.5,2 -1.42,12 -1.38,3 -1.3,2 -1.2,14 -1.16,0 0.72,0 0.74,25 0.76,5 0.8,1 2,0"/>
<polyline class="ln c" vector-effect="non-scaling-stroke" points="-2,-10 -1.95,-5 -1.9,-8 -1.84,-6 -1.8,-5 -1.7,-5 -1.66,-7 -1.62,-8 -1.58,-3 -1.46,-8 -1.42,-10 -1.38,-3 -1.3,0 0.5,-1 1,-1 2,0"/>
<polyline class="ln n" vector-effect="non-scaling-stroke" points="-2,13 -1.97,5 -1.94,10 -1.9,15 -1.86,22 -1.82,10 -1.78,15 -1.74,5 -1.7,5 -1.66,10 -1.62,22 -1.6,10 -1.56,2 -1.46,5 -1.42,22 -1.4,10 -1.36,2 -1.34,5 -1.32,15 -1.3,5 -1.22,3 -1.2,35 -1.18,20 -1.16,0 -0.78,0 -0.76,5 -0.72,8 -0.68,3 -0.64,0 -0.4,0 -0.34,3 -0.3,2 0,0 0.04,2 0.1,4 0.2,3 0.28,5 0.4,3 0.6,3 0.72,5 0.74,48 0.76,35 0.78,5 0.9,3 1.2,3 1.34,3 1.36,10 1.4,3 1.6,3 1.7,2 1.8,0 2,0"/>
<polyline class="ln n" vector-effect="non-scaling-stroke" points="-2,-20 -1.97,-10 -1.94,-12 -1.9,-15 -1.86,-20 -1.82,-10 -1.78,-15 -1.74,-5 -1.7,-5 -1.66,-12 -1.62,-18 -1.58,-5 -1.5,-2 -1.46,-12 -1.42,-15 -1.38,-5 -1.3,-2 -1.2,-2 -1,0 -0.74,0 -0.7,-5 -0.66,-3 -0.5,0 -0.2,0 0,-2 0.2,-2 0.5,-2 0.72,-3 0.76,-5 0.8,-3 1,-3 1.3,-3 1.36,-5 1.5,-3 1.7,-5 1.76,-3 1.8,0 2,0"/>
<polyline class="ln m" vector-effect="non-scaling-stroke" points="-2,5 -1.97,3 -1.94,3 -1.9,5 -1.86,6 -1.82,3 -1.78,5 -1.7,2 -1.64,5 -1.6,2 -1.5,1 -1.42,12 -1.4,20 -1.38,5 -1.34,15 -1.32,45 -1.3,20 -1.26,3 -1.22,10 -1.2,73 -1.18,50 -1.16,0 -0.78,0 -0.76,10 -0.74,15 -0.72,14 -0.7,8 -0.68,0 0.71,0 0.72,100 0.73,100 0.74,0 0.76,100 0.77,100 0.78,0 1.34,0 1.35,5 1.36,22 1.38,5 1.4,0 1.84,0 1.85,2 1.86,9 1.88,0 2,0"/>
<polyline class="ln m" vector-effect="non-scaling-stroke" points="-2,-5 -1.9,-3 -1.8,-5 -1.7,-2 -1.6,-3 -1.46,-10 -1.42,-5 -1.3,-3 -1.28,-22 -1.26,-3 -1.06,0 -1.05,-15 -1.04,-28 -1.02,-2 -1,0 -0.72,0 -0.7,-10 -0.68,-30 -0.66,-10 -0.6,-2 -0.4,-2 -0.3,-3 -0.1,-2 0,0 0.2,-2 0.4,-4 0.6,-5 0.7,-5 0.72,-10 0.74,-35 0.76,-5 0.8,-10 0.86,-8 0.9,-10 1,-8 1.1,-7 1.2,-7 1.26,-8 1.28,-28 1.3,-8 1.34,-5 1.36,-25 1.38,-5 1.5,-5 1.6,-5 1.66,-15 1.68,-35 1.7,-15 1.74,-5 1.8,0 2,0"/>
</g></g>
<g transform="translate(445.5,1765.5) scale(122.25,-1.965)"><use href="#tk"/></g>
<line x1="445.5" y1="1569" x2="445.5" y2="1962" stroke="#000" stroke-width="2.5" stroke-dasharray="13 7"/>
<rect x="201" y="1569" width="489" height="393" fill="none" stroke="#000" stroke-width="4"/>
<text class="yl" x="191" y="1575.5" textLength="36">100</text><text class="yl" x="191" y="1614.8" textLength="24">80</text><text class="yl" x="191" y="1654.1" textLength="24">60</text><text class="yl" x="191" y="1693.4" textLength="24">40</text><text class="yl" x="191" y="1732.7" textLength="24">20</text><text class="yl" x="191" y="1772" textLength="12">0</text><text class="yl" x="191" y="1811.3" textLength="31">-20</text><text class="yl" x="191" y="1850.6" textLength="31">-40</text><text class="yl" x="191" y="1889.9" textLength="31">-60</text><text class="yl" x="191" y="1929.2" textLength="31">-80</text><text class="yl" x="191" y="1968.5" textLength="43">-100</text>
<text class="xl" x="200" y="1993" textLength="19">-2</text><text class="xl" x="322.3" y="1993" textLength="19">-1</text><text class="xl" x="445.5" y="1993" textLength="12">0</text><text class="xl" x="567.8" y="1993" textLength="12">1</text><text class="xl" x="690" y="1993" textLength="12">2</text>
<text class="ti" x="285" y="1551" textLength="334" lengthAdjust="spacingAndGlyphs">(e) C<tspan font-size="15" dy="6">2</tspan><tspan dy="-6">N:Mn (DAC+SAC)</tspan></text>
<text class="ax" x="395" y="2034" textLength="128" lengthAdjust="spacingAndGlyphs">E-E<tspan font-size="17" dy="7">F</tspan><tspan dy="-7"> (eV)</tspan></text>
<text class="ax" transform="translate(138,1769.5) rotate(-90)" x="0" y="0" text-anchor="middle" textLength="323" lengthAdjust="spacingAndGlyphs">PDOS (states/eV-spin)</text>
<path d="M559,1680V1573H680" fill="none" stroke="#999" stroke-width="1.2"/>
<path d="M682.5,1579V1683H565" fill="none" stroke="#000" stroke-width="4.5"/>
<line x1="563" y1="1585" x2="613" y2="1585" stroke="#000" stroke-width="3"/>
<line x1="563" y1="1613.5" x2="613" y2="1613.5" stroke="#1a1acc" stroke-width="3"/>
<line x1="563" y1="1641" x2="613" y2="1641" stroke="#33e633" stroke-width="3.5"/>
<line x1="563" y1="1669" x2="613" y2="1669" stroke="#ee1111" stroke-width="3"/>
<text class="lg" x="619" y="1591.5" textLength="59" lengthAdjust="spacingAndGlyphs">TDOS</text>
<text class="lg" x="619" y="1620" textLength="15" lengthAdjust="spacingAndGlyphs">C</text>
<text class="lg" x="619" y="1647.5" textLength="15" lengthAdjust="spacingAndGlyphs">N</text>
<text class="lg" x="619" y="1675.5" textLength="30" lengthAdjust="spacingAndGlyphs">Mn</text>

<!-- ================= PANEL F ================= -->
<g clip-path="url(#cf)">
<g transform="translate(1307,1763) scale(121,-1.94)">
<polyline class="ln t" vector-effect="non-scaling-stroke" points="-2,5 -1.98,10 -1.96,20 -1.94,28 -1.92,22 -1.9,15 -1.88,24 -1.86,20 -1.82,20 -1.78,18 -1.74,15 -1.7,16 -1.66,15 -1.64,10 -1.6,5 -1.56,2 -1.54,15 -1.52,23 -1.5,8 -1.48,15 -1.46,22 -1.44,30 -1.42,45 -1.4,65 -1.38,40 -1.36,25 -1.34,18 -1.32,15 -1.3,25 -1.26,25 -1.22,18 -1.18,5 -1.14,2 -1.1,0 -1.04,2 -1,23 -0.98,18 -0.96,8 -0.94,10 -0.9,12 -0.86,10 -0.82,3 -0.78,0 -0.74,1 -0.7,2 -0.64,3 -0.6,2 -0.56,3 -0.52,4 -0.48,3 -0.44,3 -0.4,2 -0.36,3 -0.32,4 -0.28,2 -0.2,2 -0.1,3 -0.05,4 0,3 0.02,10 0.06,8 0.1,12 0.14,5 0.16,30 0.18,42 0.2,25 0.22,10 0.24,40 0.26,20 0.28,10 0.32,12 0.36,18 0.4,10 0.44,8 0.48,16 0.52,10 0.56,7 0.6,5 0.7,3 0.8,4 0.86,5 0.88,12 0.92,8 0.96,6 1,10 1.04,8 1.08,7 1.12,8 1.16,6 1.2,8 1.24,5 1.28,10 1.3,25 1.32,20 1.34,10 1.36,28 1.38,25 1.4,30 1.42,10 1.46,5 1.5,5 1.56,5 1.6,3 1.64,5 1.68,4 1.72,2 1.76,0 2,0"/>
<polyline class="ln t" vector-effect="non-scaling-stroke" points="-2,-5 -1.98,-10 -1.96,-18 -1.92,-16 -1.88,-18 -1.84,-12 -1.8,-14 -1.76,-10 -1.72,-14 -1.68,-12 -1.64,-6 -1.6,-2 -1.56,0 -1.52,-2 -1.48,-5 -1.44,-15 -1.42,-20 -1.4,-32 -1.38,-25 -1.36,-10 -1.34,-5 -1.3,-3 -1.26,-2 -1.2,0 -1.04,-2 -1,-10 -0.98,-15 -0.96,-20 -0.94,-30 -0.92,-53 -0.9,-30 -0.88,-25 -0.86,-20 -0.84,-10 -0.82,-5 -0.78,-3 -0.74,-2 -0.7,-6 -0.66,-4 -0.62,-6 -0.58,-5 -0.54,-8 -0.5,-20 -0.48,-38 -0.46,-45 -0.44,-30 -0.42,-15 -0.38,-10 -0.34,-8 -0.3,-8 -0.26,-5 -0.22,-3 -0.18,-3 -0.14,-2 -0.1,-3 -0.06,-5 -0.02,-8 0,-4 0.04,-10 0.08,-8 0.12,-5 0.16,-8 0.2,-12 0.24,-15 0.26,-20 0.28,-25 0.3,-18 0.32,-25 0.34,-18 0.36,-20 0.38,-28 0.4,-20 0.44,-12 0.48,-10 0.52,-12 0.56,-10 0.6,-8 0.66,-5 0.72,-7 0.78,-8 0.84,-6 0.9,-5 0.96,-8 1,-15 1.04,-20 1.08,-22 1.12,-18 1.16,-15 1.2,-20 1.24,-35 1.26,-50 1.28,-35 1.3,-25 1.34,-20 1.36,-38 1.38,-25 1.42,-10 1.46,-8 1.5,-7 1.54,-12 1.58,-14 1.62,-12 1.66,-8 1.7,-3 1.74,0 2,0"/>
<polyline class="ln c" vector-effect="non-scaling-stroke" points="-2,2 -1.9,4 -1.8,3 -1.7,2 -1.6,1 -1.44,3 -1.4,7 -1.38,4 -1.3,1 -1.2,0 1.3,0 1.4,2 1.5,1 1.6,0 2,0"/>
<polyline class="ln c" vector-effect="non-scaling-stroke" points="-2,-2 -1.94,-5 -1.9,-4 -1.84,-3 -1.7,-2 -1.6,-1 -1.44,-3 -1.42,-5 -1.4,-10 -1.38,-5 -1.3,0 -0.5,0 -0.46,-3 -0.4,0 2,0"/>
<polyline class="ln n" vector-effect="non-scaling-stroke" points="-2,3 -1.96,6 -1.92,8 -1.88,6 -1.84,9 -1.8,6 -1.76,8 -1.72,7 -1.68,9 -1.64,7 -1.6,3 -1.56,0 -1.5,2 -1.44,8 -1.42,12 -1.4,15 -1.38,8 -1.34,5 -1.3,3 -1.26,2 -1.2,0 -1.04,0 -1,3 -0.96,5 -0.9,3 -0.8,1 -0.5,0 -0.2,0 0,1 0.1,2 0.16,5 0.2,4 0.3,3 0.4,3 0.6,2 0.8,2 1,3 1.2,2 1.36,3 1.4,5 1.5,3 1.7,2 1.76,0 2,0"/>
<polyline class="ln n" vector-effect="non-scaling-stroke" points="-2,-3 -1.96,-6 -1.92,-5 -1.88,-7 -1.84,-5 -1.8,-7 -1.76,-6 -1.72,-8 -1.68,-5 -1.64,-4 -1.6,-2 -1.56,0 -1.46,-3 -1.42,-8 -1.4,-15 -1.38,-12 -1.34,-4 -1.3,-2 -1.2,0 -1.04,0 -1,-3 -0.94,-5 -0.9,-3 -0.8,-2 -0.5,-3 -0.46,-4 -0.4,-2 -0.2,-1 0,-2 0.2,-3 0.3,-4 0.5,-3 0.8,-2 1,-4 1.1,-6 1.2,-5 1.3,-4 1.4,-3 1.6,-3 1.7,-2 1.76,0 2,0"/>
<polyline class="ln m" vector-effect="non-scaling-stroke" points="-2,18 -1.98,5 -1.96,3 -1.9,5 -1.84,4 -1.8,3 -1.7,2 -1.6,1 -1.52,10 -1.5,20 -1.48,10 -1.46,20 -1.44,22 -1.42,30 -1.4,25 -1.38,18 -1.34,10 -1.32,8 -1.3,17 -1.26,18 -1.24,10 -1.2,0 -1.02,0 -1,15 -0.98,10 -0.96,5 -0.94,5 -0.9,8 -0.86,6 -0.82,0 0.12,0 0.14,5 0.16,20 0.18,25 0.2,10 0.22,8 0.24,22 0.26,10 0.28,3 0.3,0 1.28,0 1.3,10 1.32,20 1.34,25 1.36,15 1.38,20 1.4,28 1.42,20 1.44,5 1.5,0 2,0"/>
<polyline class="ln m" vector-effect="non-scaling-stroke" points="-2,0 -1.02,0 -1,-5 -0.98,-10 -0.96,-20 -0.94,-40 -0.92,-28 -0.9,-20 -0.88,-22 -0.86,-10 -0.84,-3 -0.8,0 -0.54,0 -0.52,-5 -0.48,-20 -0.46,-28 -0.44,-20 -0.42,-8 -0.38,-3 -0.34,0 0.18,0 0.2,-5 0.24,-10 0.26,-15 0.28,-20 0.3,-10 0.32,-15 0.34,-10 0.36,-12 0.38,-15 0.4,-10 0.44,-5 0.6,-3 0.8,-2 1,-5 1.04,-10 1.1,-10 1.16,-8 1.2,-10 1.22,-20 1.24,-30 1.26,-40 1.28,-30 1.3,-20 1.32,-15 1.34,-22 1.36,-28 1.38,-15 1.42,-6 1.5,-5 1.56,-6 1.6,-5 1.66,-3 1.7,-1 1.74,0 2,0"/>
</g></g>
<g transform="translate(1307,1763) scale(121,-1.94)"><use href="#tk"/></g>
<line x1="1307" y1="1569" x2="1307" y2="1957" stroke="#000" stroke-width="2.5" stroke-dasharray="13 7"/>
<rect x="1065" y="1569" width="484" height="388" fill="none" stroke="#000" stroke-width="4"/>
<text class="yl" x="1055" y="1575.5" textLength="36">100</text><text class="yl" x="1055" y="1614.3" textLength="24">80</text><text class="yl" x="1055" y="1653.1" textLength="24">60</text><text class="yl" x="1055" y="1691.9" textLength="24">40</text><text class="yl" x="1055" y="1730.7" textLength="24">20</text><text class="yl" x="1055" y="1769.5" textLength="12">0</text><text class="yl" x="1055" y="1808.3" textLength="31">-20</text><text class="yl" x="1055" y="1847.1" textLength="31">-40</text><text class="yl" x="1055" y="1885.9" textLength="31">-60</text><text class="yl" x="1055" y="1924.7" textLength="31">-80</text><text class="yl" x="1055" y="1963.5" textLength="43">-100</text>
<text class="xl" x="1064" y="1988" textLength="19">-2</text><text class="xl" x="1185" y="1988" textLength="19">-1</text><text class="xl" x="1307" y="1988" textLength="12">0</text><text class="xl" x="1428" y="1988" textLength="12">1</text><text class="xl" x="1549" y="1988" textLength="12">2</text>
<text class="ti" x="1141" y="1542" textLength="317" lengthAdjust="spacingAndGlyphs">(f) C<tspan font-size="15" dy="6">2</tspan><tspan dy="-6">N:Mn (DAC-DAC)</tspan></text>
<text class="ax" x="1251" y="2027" textLength="125" lengthAdjust="spacingAndGlyphs">E-E<tspan font-size="17" dy="7">F</tspan><tspan dy="-7"> (eV)</tspan></text>
<text class="ax" transform="translate(996,1766.5) rotate(-90)" x="0" y="0" text-anchor="middle" textLength="317" lengthAdjust="spacingAndGlyphs">PDOS (states/eV-spin)</text>
<path d="M1410,1689V1574" fill="none" stroke="#999" stroke-width="1.2"/>
<path d="M1541,1580V1691.5H1416" fill="none" stroke="#000" stroke-width="4.5"/>
<line x1="1418" y1="1594" x2="1467" y2="1594" stroke="#000" stroke-width="3"/>
<line x1="1418" y1="1621" x2="1467" y2="1621" stroke="#1a1acc" stroke-width="2.5"/>
<line x1="1418" y1="1648" x2="1467" y2="1648" stroke="#33e633" stroke-width="3.5"/>
<line x1="1418" y1="1675" x2="1467" y2="1675" stroke="#ee1111" stroke-width="3"/>
<text class="lg" x="1473" y="1600.5" textLength="58" lengthAdjust="spacingAndGlyphs">TDOS</text>
<text class="lg" x="1473" y="1627.5" textLength="15" lengthAdjust="spacingAndGlyphs">C</text>
<text class="lg" x="1473" y="1654.5" textLength="15" lengthAdjust="spacingAndGlyphs">N</text>
<text class="lg" x="1473" y="1681.5" textLength="30" lengthAdjust="spacingAndGlyphs">Mn</text>
</svg>
</body></html>
